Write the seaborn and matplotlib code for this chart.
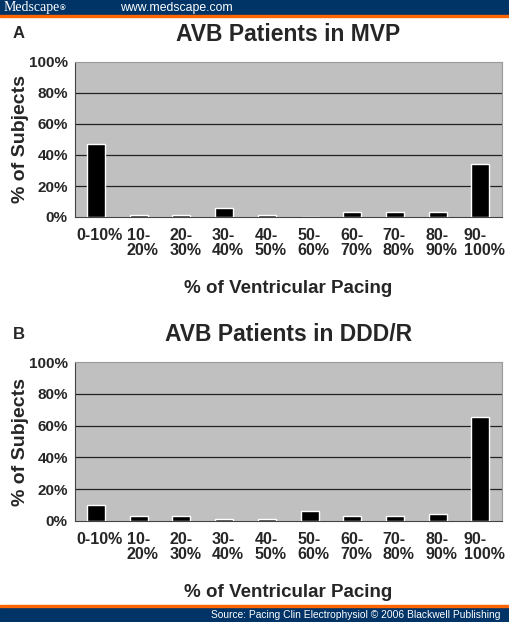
import numpy as np
import pandas as pd
import matplotlib
matplotlib.use("Agg")
import matplotlib.pyplot as plt
import seaborn as sns
from matplotlib.ticker import PercentFormatter

# data
bins = ["0-10%", "10-\n20%", "20-\n30%", "30-\n40%", "40-\n50%",
        "50-\n60%", "60-\n70%", "70-\n80%", "80-\n90%", "90-\n100%"]
mvp_pct = [47, 1.3, 1.3, 6, 1.3, 0, 3, 3, 3, 34]
dddr_pct = [10, 3, 3, 1.3, 1.3, 6, 3, 3, 4.2, 65.5]

titles = ["AVB Patients in MVP", "AVB Patients in DDD/R"]
panel_letters = ["A", "B"]

sns.set_style("white")
plt.rcParams['font.family'] = ['Liberation Sans', 'DejaVu Sans']

W, H = 510, 622
fig = plt.figure(figsize=(W / 100, H / 100), dpi=100)

navy = "#003366"
orange = "#ff6600"

# header / footer bands
fig.patches.append(plt.Rectangle((0, 1 - 15 / H), 1, 15 / H, transform=fig.transFigure,
                                 color=navy, zorder=0))
fig.patches.append(plt.Rectangle((0, 1 - 17 / H), 1, 2 / H, transform=fig.transFigure,
                                 color=orange, zorder=0))
fig.patches.append(plt.Rectangle((0, 0), 1, 15 / H, transform=fig.transFigure,
                                 color=navy, zorder=0))
fig.patches.append(plt.Rectangle((0, 15 / H), 1, 2 / H, transform=fig.transFigure,
                                 color=orange, zorder=0))
fig.text(4 / W, 1 - 7.5 / H, "Medscape", color="white", fontsize=10,
         family="Liberation Serif", va="center", ha="left")
fig.text(60 / W, 1 - 8.5 / H, "®", color="white", fontsize=5.5,
         family="Liberation Sans", fontweight="bold", va="center", ha="left")
fig.text(120 / W, 1 - 7.5 / H, "www.medscape.com", color="white", fontsize=8.8,
         va="center", ha="left")
fig.text(501 / W, 7.5 / H, "Source: Pacing Clin Electrophysiol © 2006 Blackwell Publishing",
         color="white", fontsize=7.4, va="center", ha="right")


def draw_panel(ax, values, title):
    df = pd.DataFrame({"bin": bins, "pct": values})
    ax.set_facecolor("#c0c0c0")
    sns.barplot(data=df, x="bin", y="pct", color="black", width=0.42,
                saturation=1, ax=ax, zorder=3)
    ax.set_ylim(0, 100)
    ax.set_xlim(-0.5, len(bins) - 0.5)
    ax.set_yticks(np.arange(0, 101, 20))
    ax.yaxis.set_major_formatter(PercentFormatter(decimals=0))
    for y in [20, 40, 60, 80]:
        ax.axhline(y, color="#222222", lw=0.9, zorder=1)
    # category labels sit a little right of the bar centres in the original
    ax.set_xticks(np.arange(len(bins)) + 0.09)
    ax.set_xticklabels(bins, fontweight="bold", fontsize=11.5, va="top",
                       linespacing=1.0, multialignment="left")
    ax.set_xticks(np.arange(-0.5, len(bins), 1), minor=True)
    ax.tick_params(axis="x", which="major", length=0, pad=8)
    ax.tick_params(axis="x", which="minor", length=4, width=0.8, color="#444444",
                   direction="out")
    ax.tick_params(axis="y", length=4, width=0.8, color="#444444", direction="out",
                   labelsize=11, pad=1)
    for lab in ax.get_yticklabels():
        lab.set_fontweight("bold")
    for side in ["top", "right"]:
        ax.spines[side].set_color("#9a9a9a")
        ax.spines[side].set_linewidth(0.8)
    for side in ["left", "bottom"]:
        ax.spines[side].set_color("#444444")
        ax.spines[side].set_linewidth(0.8)
    ax.set_xlabel("% of Ventricular Pacing", fontsize=13.5, fontweight="bold",
                  labelpad=16)
    ax.set_ylabel("% of Subjects", fontsize=14, fontweight="bold", labelpad=0)
    ax.set_title(title, fontsize=16.5, fontweight="bold", pad=15)


left = 74.7 / W
width = 427 / W
ax_a = fig.add_axes([left, 1 - 217 / H, width, 155 / H])
ax_b = fig.add_axes([left, 1 - 521 / H, width, 159 / H])

draw_panel(ax_a, mvp_pct, titles[0])
draw_panel(ax_b, dddr_pct, titles[1])

fig.text(13 / W, 1 - 33 / H, panel_letters[0], fontsize=12, fontweight="bold",
         va="center")
fig.text(13 / W, 1 - 335 / H, panel_letters[1], fontsize=12, fontweight="bold",
         va="center")

fig.savefig("out.png", dpi=100)
